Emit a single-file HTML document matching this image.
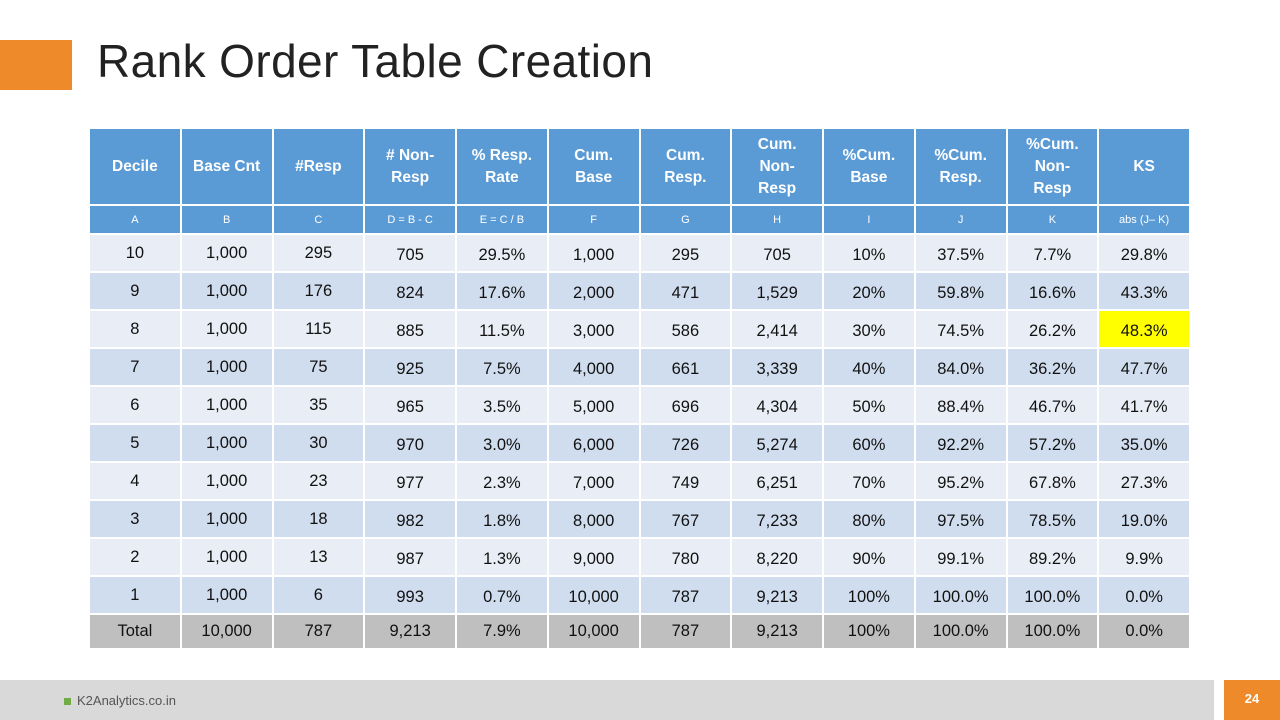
<!DOCTYPE html>
<html><head><meta charset="utf-8"><style>
body{margin:0;width:1280px;height:720px;background:#fff;position:relative;overflow:hidden;font-family:"Liberation Sans",sans-serif}
.orange{position:absolute;left:0;top:40px;width:72px;height:50px;background:#ee8a2a}
h1{position:absolute;left:97px;top:34px;margin:0;font-weight:normal;font-size:46px;color:#222;letter-spacing:0.4px}
table{position:absolute;left:88px;top:127px;width:1103px;border-collapse:collapse;table-layout:fixed}
td,th{border:2px solid #fff;text-align:center;padding:0;font-size:16.5px;color:#111}
th{background:#5b9bd5;color:#fff;font-weight:bold;font-size:15.5px;height:75px;line-height:22px}
tr.sub td{background:#5b9bd5;color:#fff;font-size:11px;height:27px}
tr.odd td{background:#e9eef6;height:36px}
tr.even td{background:#d0ddee;height:36px}
tr.odd td:nth-child(n+4),tr.even td:nth-child(n+4){padding-top:5px;height:31px}
tr.total td{background:#bfbfbf;height:33px}
td.hl{background:#ffff00 !important}
.footer{position:absolute;left:0;top:680px;width:1214px;height:40px;background:#d9d9d9}
.ft{position:absolute;left:64px;top:693px;font-size:13px;color:#555}
.ft span{display:inline-block;width:7px;height:7px;background:#70ad47;margin-right:6px}
.pg{position:absolute;left:1224px;top:680px;width:56px;height:40px;background:#ee8a2a;color:#fff;font-size:13px;font-weight:bold;text-align:center;line-height:38px}
</style></head><body>
<div class="orange"></div>
<h1>Rank Order Table Creation</h1>
<table>
<tr><th>Decile</th><th>Base Cnt</th><th>#Resp</th><th># Non-<br>Resp</th><th>% Resp.<br>Rate</th><th>Cum.<br>Base</th><th>Cum.<br>Resp.</th><th>Cum.<br>Non-<br>Resp</th><th>%Cum.<br>Base</th><th>%Cum.<br>Resp.</th><th>%Cum.<br>Non-<br>Resp</th><th>KS</th></tr>
<tr class="sub"><td>A</td><td>B</td><td>C</td><td>D = B - C</td><td>E = C / B</td><td>F</td><td>G</td><td>H</td><td>I</td><td>J</td><td>K</td><td>abs (J– K)</td></tr>
<tr class="odd"><td>10</td><td>1,000</td><td>295</td><td>705</td><td>29.5%</td><td>1,000</td><td>295</td><td>705</td><td>10%</td><td>37.5%</td><td>7.7%</td><td>29.8%</td></tr>
<tr class="even"><td>9</td><td>1,000</td><td>176</td><td>824</td><td>17.6%</td><td>2,000</td><td>471</td><td>1,529</td><td>20%</td><td>59.8%</td><td>16.6%</td><td>43.3%</td></tr>
<tr class="odd"><td>8</td><td>1,000</td><td>115</td><td>885</td><td>11.5%</td><td>3,000</td><td>586</td><td>2,414</td><td>30%</td><td>74.5%</td><td>26.2%</td><td class="hl">48.3%</td></tr>
<tr class="even"><td>7</td><td>1,000</td><td>75</td><td>925</td><td>7.5%</td><td>4,000</td><td>661</td><td>3,339</td><td>40%</td><td>84.0%</td><td>36.2%</td><td>47.7%</td></tr>
<tr class="odd"><td>6</td><td>1,000</td><td>35</td><td>965</td><td>3.5%</td><td>5,000</td><td>696</td><td>4,304</td><td>50%</td><td>88.4%</td><td>46.7%</td><td>41.7%</td></tr>
<tr class="even"><td>5</td><td>1,000</td><td>30</td><td>970</td><td>3.0%</td><td>6,000</td><td>726</td><td>5,274</td><td>60%</td><td>92.2%</td><td>57.2%</td><td>35.0%</td></tr>
<tr class="odd"><td>4</td><td>1,000</td><td>23</td><td>977</td><td>2.3%</td><td>7,000</td><td>749</td><td>6,251</td><td>70%</td><td>95.2%</td><td>67.8%</td><td>27.3%</td></tr>
<tr class="even"><td>3</td><td>1,000</td><td>18</td><td>982</td><td>1.8%</td><td>8,000</td><td>767</td><td>7,233</td><td>80%</td><td>97.5%</td><td>78.5%</td><td>19.0%</td></tr>
<tr class="odd"><td>2</td><td>1,000</td><td>13</td><td>987</td><td>1.3%</td><td>9,000</td><td>780</td><td>8,220</td><td>90%</td><td>99.1%</td><td>89.2%</td><td>9.9%</td></tr>
<tr class="even"><td>1</td><td>1,000</td><td>6</td><td>993</td><td>0.7%</td><td>10,000</td><td>787</td><td>9,213</td><td>100%</td><td>100.0%</td><td>100.0%</td><td>0.0%</td></tr>
<tr class="total"><td>Total</td><td>10,000</td><td>787</td><td>9,213</td><td>7.9%</td><td>10,000</td><td>787</td><td>9,213</td><td>100%</td><td>100.0%</td><td>100.0%</td><td>0.0%</td></tr>
</table>
<div class="footer"></div>
<div class="ft"><span></span>K2Analytics.co.in</div>
<div class="pg">24</div>
</body></html>
